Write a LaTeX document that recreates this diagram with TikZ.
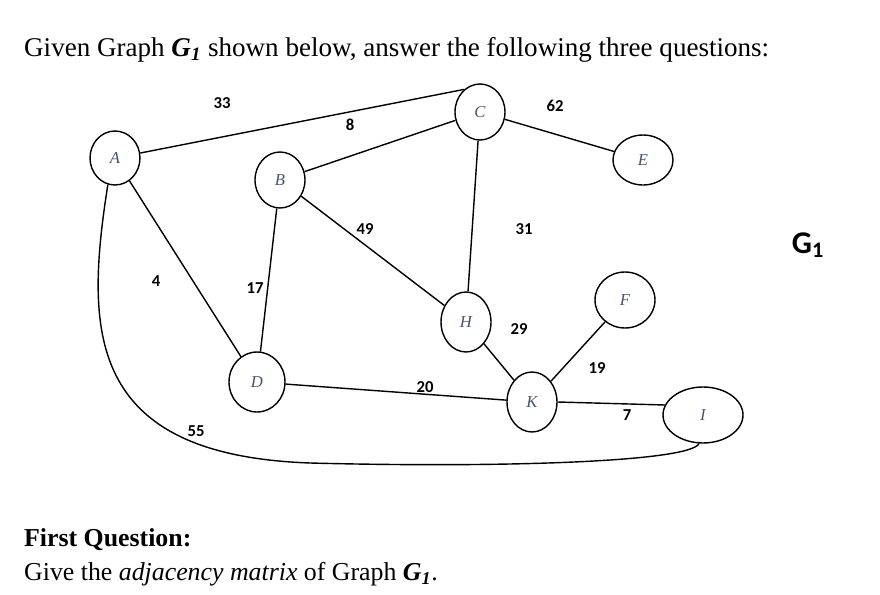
\documentclass[tikz,border=0pt]{standalone}
\usepackage{fontspec}
\setmainfont{Liberation Serif}
\newfontfamily\lab{Carlito}
\usetikzlibrary{shapes.geometric}
\definecolor{nodetxt}{RGB}{70,85,110}
\begin{document}
\begin{tikzpicture}[x=0.02cm,y=-0.02cm,
  vtx/.style={draw,ellipse,line width=0.8pt,inner sep=0pt,font=\fontsize{9.5}{10}\selectfont\itshape\color{nodetxt}},
  wt/.style={font=\lab\bfseries\fontsize{9.5}{10}\selectfont},
  edge/.style={line width=0.8pt}]
\useasboundingbox (0,0) rectangle (880,595);
\node[anchor=west,font=\fontsize{15.4}{17}\selectfont] (title) at (18,50) {Given Graph \textbf{\textit{G\textsubscript{1}}} shown below, answer the following three questions:};
\node[vtx,minimum width=1.0cm,minimum height=1.08cm] (A) at (115,158) {A};
\node[vtx,minimum width=1.0cm,minimum height=1.12cm] (B) at (280,180) {B};
\node[vtx,minimum width=1.0cm,minimum height=1.12cm] (C) at (480,112) {C};
\node[vtx,minimum width=1.2cm,minimum height=1.0cm] (E) at (643,160) {E};
\node[vtx,minimum width=1.2cm,minimum height=1.12cm] (F) at (625,300) {F};
\node[vtx,minimum width=1.0cm,minimum height=1.2cm] (H) at (466,322) {H};
\node[vtx,minimum width=1.12cm,minimum height=1.2cm] (D) at (257,382) {D};
\node[vtx,minimum width=1.0cm,minimum height=1.2cm] (K) at (532,402) {K};
\node[vtx,minimum width=1.6cm,minimum height=1.12cm] (I) at (703,415) {I};
\coordinate (Iw) at (665,405);
\draw[edge] (A) -- (C.125);
\draw[edge] (B) -- (C);
\draw[edge] (C) -- (E);
\draw[edge] (C) -- (H);
\draw[edge] (B) -- (H);
\draw[edge] (B) -- (D);
\draw[edge] (A) -- (D);
\draw[edge] (D) -- (K);
\draw[edge] (H) -- (K);
\draw[edge] (K) -- (F);
\draw[edge] (K.east) -- (Iw);
\draw[edge] (A.255) .. controls (85,330) and (85,455) .. (310,463) .. controls (500,468) and (690,462) .. (I.262);
\node[wt] (w1) at (222,103) {33};
\node[wt] (w2) at (350,125) {8};
\node[wt] (w3) at (555,106) {62};
\node[wt] (w4) at (365,229) {49};
\node[wt] (w5) at (524,229) {31};
\node[wt] (w6) at (156,281) {4};
\node[wt] (w7) at (255,288) {17};
\node[wt] (w8) at (519,329) {29};
\node[wt] (w9) at (597,368) {19};
\node[wt] (w10) at (425,387) {20};
\node[wt] (w11) at (627,415) {7};
\node[wt] (w12) at (196,431) {55};
\node[font=\lab\bfseries\fontsize{18}{20}\selectfont] (g) at (808,245) {G\textsubscript{1}};
\node[anchor=west,font=\fontsize{14.7}{17}\selectfont\bfseries] (q) at (18,540) {First Question:};
\node[anchor=west,font=\fontsize{14.7}{17}\selectfont] (q2) at (18,574) {Give the \textit{adjacency matrix} of Graph \textbf{\textit{G\textsubscript{1}}}.};
\end{tikzpicture}
\end{document}
